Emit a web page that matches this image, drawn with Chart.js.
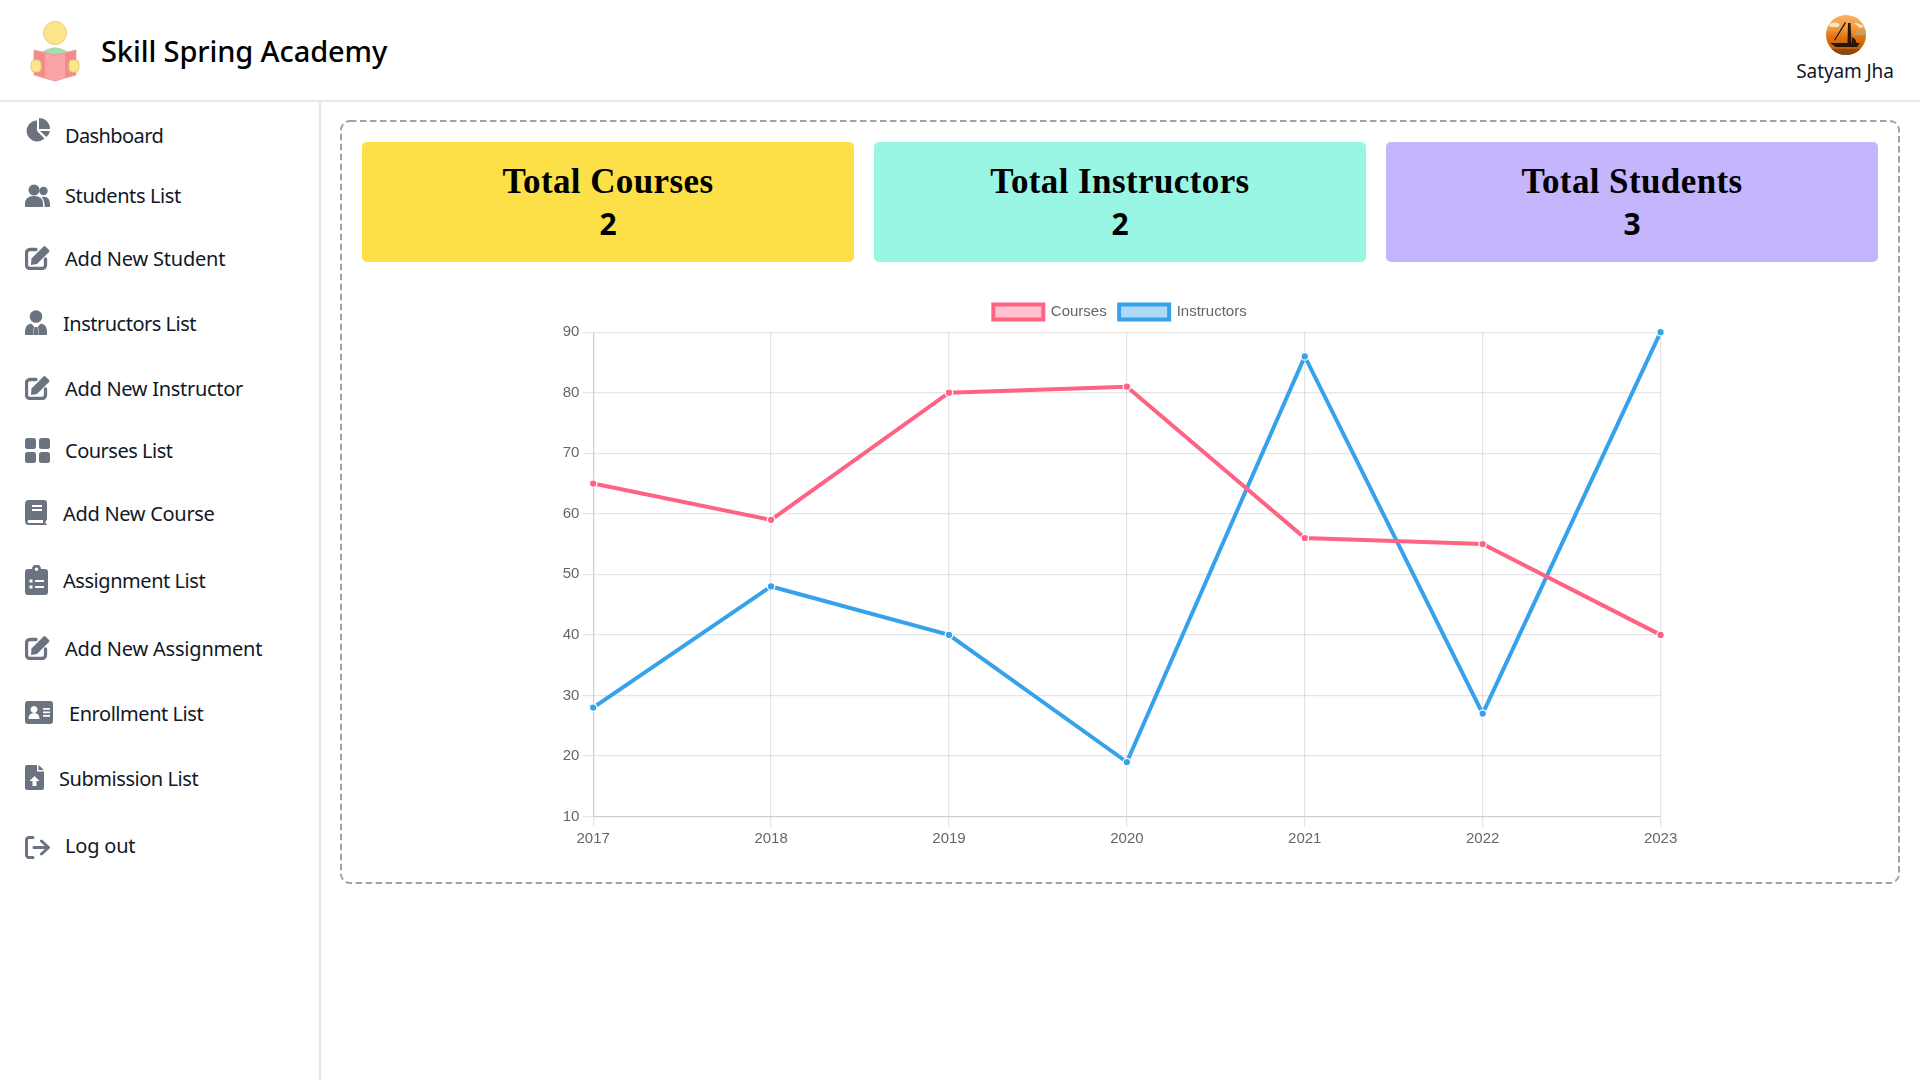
<!DOCTYPE html>
<html><head><meta charset="utf-8"><title>Skill Spring Academy</title>
<script src="https://cdn.jsdelivr.net/npm/chart.js@4"></script>
<style>
html,body{margin:0;padding:0;background:#fff;width:1920px;height:1080px;overflow:hidden}
body{position:relative;font-family:"Noto Sans",sans-serif;color:#111827}
.abs{position:absolute}
#hline{left:0;top:100px;width:1920px;height:1.5px;background:#e5e7eb}
#vline{left:319px;top:100px;width:1.5px;height:980px;background:#e5e7eb}
#brand{left:101px;top:30px;font-size:29px;line-height:42px;font-weight:500;letter-spacing:-.1px;color:#000;white-space:nowrap}
#user{left:1745px;width:200px;top:57px;text-align:center;font-size:19px;letter-spacing:-.12px;line-height:28px;color:#111827}
.nav{position:absolute;font-size:20px;letter-spacing:-.2px;line-height:28px;white-space:nowrap;transform:translateY(-50%)}
.ic{position:absolute;fill:#6b7280}
.card{position:absolute;top:142px;width:492px;height:120px;border-radius:5px;text-align:center}
.card .t{position:absolute;left:0;right:0;top:18px;font-family:"Liberation Serif",serif;font-weight:700;font-size:35px;letter-spacing:.4px;line-height:44px;color:#000}
.card .n{position:absolute;left:0;right:0;top:62px;font-weight:700;font-size:30px;line-height:40px;color:#000}
#wrap{left:558.5px;top:292px;width:1122px;height:560px}
</style></head><body>
<div class="abs" id="hline"></div><div class="abs" id="vline"></div>
<svg class="abs" style="left:28px;top:18px" width="56" height="64" viewBox="0 0 56 64">
<circle cx="27" cy="15" r="11.5" fill="#fde68a" stroke="#e3cd80" stroke-width="1"/>
<path d="M14 34q13-9 26 0v6H14z" fill="#a7dcae"/>
<path d="M6 32l21 5 21-5v25l-21 6-21-6z" fill="#f58a8a" stroke="#ee9c9c" stroke-width=".8"/>
<path d="M17 35l10 3 10-3v25l-10 3-10-3z" fill="#f9a3a6"/>
<rect x="3" y="42" width="10" height="12" rx="4" fill="#fde68a" stroke="#e3cd80"/>
<rect x="41" y="42" width="10" height="12" rx="4" fill="#fde68a" stroke="#e3cd80"/>
</svg>
<div class="abs" id="brand">Skill Spring Academy</div>
<svg class="abs" style="left:1826px;top:15px" width="40" height="40" viewBox="0 0 40 40">
<defs><clipPath id="av"><circle cx="20" cy="20" r="20"/></clipPath><linearGradient id="sky" x1="0" y1="0" x2="0" y2="1"><stop offset="0" stop-color="#f6b266"/><stop offset=".35" stop-color="#ee9a3c"/><stop offset=".55" stop-color="#e2740f"/><stop offset="1" stop-color="#a9540f"/></linearGradient></defs>
<g clip-path="url(#av)"><rect width="40" height="40" fill="url(#sky)"/>
<path d="M3 9q6-3 11 0l-2 3H4zM28 8q6 0 10 4l-4 1z" fill="#fde3c0"/>
<path d="M30 17l10-3v6H28z" fill="#c9a05a"/>
<path d="M4 28h30l-3 4H10z" fill="#2a1606"/>
<path d="M22 8h2.500l1 20h-4zM26 22l3 2 2 5h-5zM19 7L8 25l1 .6L20 8z" fill="#2a1606"/>
<rect y="34" width="40" height="6" fill="#8a4a12"/></g></svg>
<div class="abs" id="user">Satyam Jha</div>

<div class="nav" style="left:65px;top:136px;letter-spacing:-.6px">Dashboard</div>
<div class="nav" style="left:65px;top:196px;letter-spacing:-.4px">Students List</div>
<div class="nav" style="left:65px;top:259px">Add New Student</div>
<div class="nav" style="left:63px;top:324px;letter-spacing:-.5px">Instructors List</div>
<div class="nav" style="left:65px;top:389px;letter-spacing:-.3px">Add New Instructor</div>
<div class="nav" style="left:65px;top:451px;letter-spacing:-.5px">Courses List</div>
<div class="nav" style="left:63px;top:514px;letter-spacing:-.3px">Add New Course</div>
<div class="nav" style="left:63px;top:581px;letter-spacing:-.45px">Assignment List</div>
<div class="nav" style="left:65px;top:649px">Add New Assignment</div>
<div class="nav" style="left:69px;top:714px;letter-spacing:-.45px">Enrollment List</div>
<div class="nav" style="left:59px;top:779px;letter-spacing:-.45px">Submission List</div>
<div class="nav" style="left:65px;top:846px">Log out</div>

<svg class="ic" style="left:26px;top:118px" width="24" height="24" viewBox="0 0 24 24"><path d="M11 2.500V13l7.500 7.500A10.500 10.500 0 1 1 11 2.500z"/><path d="M13 0a11 11 0 0 1 11 11H13z"/><path d="M14 13h10a10.500 10.500 0 0 1-3.500 6z"/></svg>
<svg class="ic" style="left:25px;top:184px" width="25" height="23" viewBox="0 0 25 23"><circle cx="9" cy="6" r="5.500"/><circle cx="18.500" cy="7" r="4.200"/><path d="M0 23v-3q0-8 9-8t9 8v3z"/><path d="M19.500 23v-3q0-4-3-7 8-2 8.500 7v3z"/></svg>
<svg class="abs ed" style="left:25px;top:245px" width="25" height="25" viewBox="0 0 25 25"><use href="#edit"/></svg>
<svg class="ic" style="left:25px;top:310px" width="22" height="25" viewBox="0 0 22 25"><circle cx="11" cy="6.500" r="6.300"/><path d="M0 25v-4q0-6 6-7.500l3 3-1 8.500zM22 25v-4q0-6-6-7.500l-3 3 1 8.500zM9.500 17h3l1.200 8h-5.400z"/></svg>
<svg class="abs ed" style="left:25px;top:375px" width="25" height="25" viewBox="0 0 25 25"><use href="#edit"/></svg>
<svg class="ic" style="left:25px;top:438px" width="25" height="25" viewBox="0 0 25 25"><rect width="11" height="11" rx="2.500"/><rect x="14" width="11" height="11" rx="2.500"/><rect y="14" width="11" height="11" rx="2.500"/><rect x="14" y="14" width="11" height="11" rx="2.500"/></svg>
<svg class="ic" style="left:25px;top:500px" width="22" height="25" viewBox="0 0 22 25"><path fill-rule="evenodd" d="M4 0h15a3 3 0 0 1 3 3v16q0 1.500-1.500 2v2.500q1.500.2 1.500 1.500H4a4 4 0 0 1-4-4V4a4 4 0 0 1 4-4zM7 5v2h10V5zM7 9v2h10V9zM4 20a1.500 1.500 0 0 0 0 3h14v-3z"/></svg>
<svg class="ic" style="left:25px;top:565px" width="23" height="30" viewBox="0 0 23 30"><path fill-rule="evenodd" d="M3 4h4a4.500 4.500 0 0 1 9 0h4a3 3 0 0 1 3 3v20a3 3 0 0 1-3 3H3a3 3 0 0 1-3-3V7a3 3 0 0 1 3-3zM11.500 2.500a1.700 1.700 0 1 0 .01 0zM4.500 14.500v3h3v-3zM4.500 20.500v3h3v-3zM10 15v2h9v-2zM10 21v2h9v-2z"/></svg>
<svg class="abs ed" style="left:25px;top:635px" width="25" height="25" viewBox="0 0 25 25"><use href="#edit"/></svg>
<svg class="ic" style="left:25px;top:701px" width="28" height="23" viewBox="0 0 28 23"><path fill-rule="evenodd" d="M3 0h22a3 3 0 0 1 3 3v17a3 3 0 0 1-3 3H3a3 3 0 0 1-3-3V3a3 3 0 0 1 3-3zM9 5a3.500 3.500 0 1 0 .01 0zM3.500 18h11q0-6-5.500-6t-5.500 6zM18 7v1.800h7V7zM18 10.500v1.800h7v-1.800zM18 14v1.800h7V14z"/></svg>
<svg class="ic" style="left:25px;top:765px" width="19" height="25" viewBox="0 0 19 25"><path fill-rule="evenodd" d="M2 0h10v6.500h7V23a2 2 0 0 1-2 2H2a2 2 0 0 1-2-2V2a2 2 0 0 1 2-2zM9.500 11L4.500 16h3v5h4v-5h3z"/><path d="M13.500 0L19 5h-5.500z"/></svg>
<svg class="abs" style="left:25px;top:836px" width="25" height="23" viewBox="0 0 25 23" fill="none" stroke="#6b7280" stroke-width="3" stroke-linecap="round" stroke-linejoin="round"><path d="M8 1.500H4a2.500 2.500 0 0 0-2.500 2.500v15A2.500 2.500 0 0 0 4 21.500h4M9 11.500h14M16.500 5l7 6.500-7 6.500"/></svg>
<svg width="0" height="0" class="abs"><defs><g id="edit"><path d="M11 4.500H5a3.500 3.500 0 0 0-3.500 3.500v12A3.500 3.500 0 0 0 5 23.500h12a3.500 3.500 0 0 0 3.500-3.500v-6" fill="none" stroke="#6b7280" stroke-width="3.300" stroke-linecap="round"/><path d="M6.500 13.500L18.500 1.500q1-1 2 0l3.500 3.500q1 1 0 2L12 19l-6 1z" fill="#6b7280"/></g></defs></svg>

<svg class="abs" style="left:335px;top:115px" width="570" height="775" overflow="visible" viewBox="0 0 570 775"><rect x="6" y="6" width="1558" height="762" rx="9" fill="none" stroke="#9ca3af" stroke-width="2" stroke-dasharray="6.500 3.500"/></svg>
<div class="card" style="left:362px;background:#fde047"><div class="t">Total Courses</div><div class="n">2</div></div>
<div class="card" style="left:874px;background:#99f6e4"><div class="t">Total Instructors</div><div class="n">2</div></div>
<div class="card" style="left:1386px;background:#c4b5fd"><div class="t">Total Students</div><div class="n">3</div></div>

<div class="abs" id="wrap"><canvas id="chart" width="1122" height="560"></canvas></div>
<script>
const years = ["2017","2018","2019","2020","2021","2022","2023"];
const courses = [65,59,80,81,56,55,40];
const instructors = [28,48,40,19,86,27,90];
const S = 1.25;
Chart.defaults.font.family = '"Liberation Sans",Arial,sans-serif';
Chart.defaults.font.size = 12*S;
Chart.defaults.color = '#666';
const legendGap = {id:'legendGap',beforeLayout(chart){
  const l = chart.legend;
  if(l && !l._gap){ l._gap = true; const f = l.fit.bind(l); l.fit = function(){ f(); this.height += 2.7; }; }
}};
new Chart(document.getElementById('chart'),{
  type:'line',
  plugins:[legendGap],
  data:{labels:years,datasets:[
    {label:'Courses',data:courses,clip:false,borderColor:'#ff6384',backgroundColor:'rgba(255,99,132,0.4)',pointBackgroundColor:'#ff6384',pointBorderColor:'#fff'},
    {label:'Instructors',data:instructors,clip:false,borderColor:'#36a2eb',backgroundColor:'rgba(54,162,235,0.4)',pointBackgroundColor:'#36a2eb',pointBorderColor:'#fff'}
  ]},
  options:{
    responsive:false,animation:false,devicePixelRatio:1,
    elements:{line:{borderWidth:4,tension:0},point:{radius:3*S,borderWidth:1*S}},
    plugins:{legend:{position:'top',labels:{boxWidth:40*S,boxHeight:12*S,padding:10*S,font:{size:12*S}}},tooltip:{enabled:false}},
    scales:{
      x:{grid:{lineWidth:S,tickLength:8*S},border:{width:S},ticks:{padding:3*S,maxRotation:0}},
      y:{min:10,max:90,grid:{lineWidth:S,tickLength:8*S},border:{width:S},ticks:{stepSize:10,padding:3*S}}
    }
  }
});
</script>
</body></html>
